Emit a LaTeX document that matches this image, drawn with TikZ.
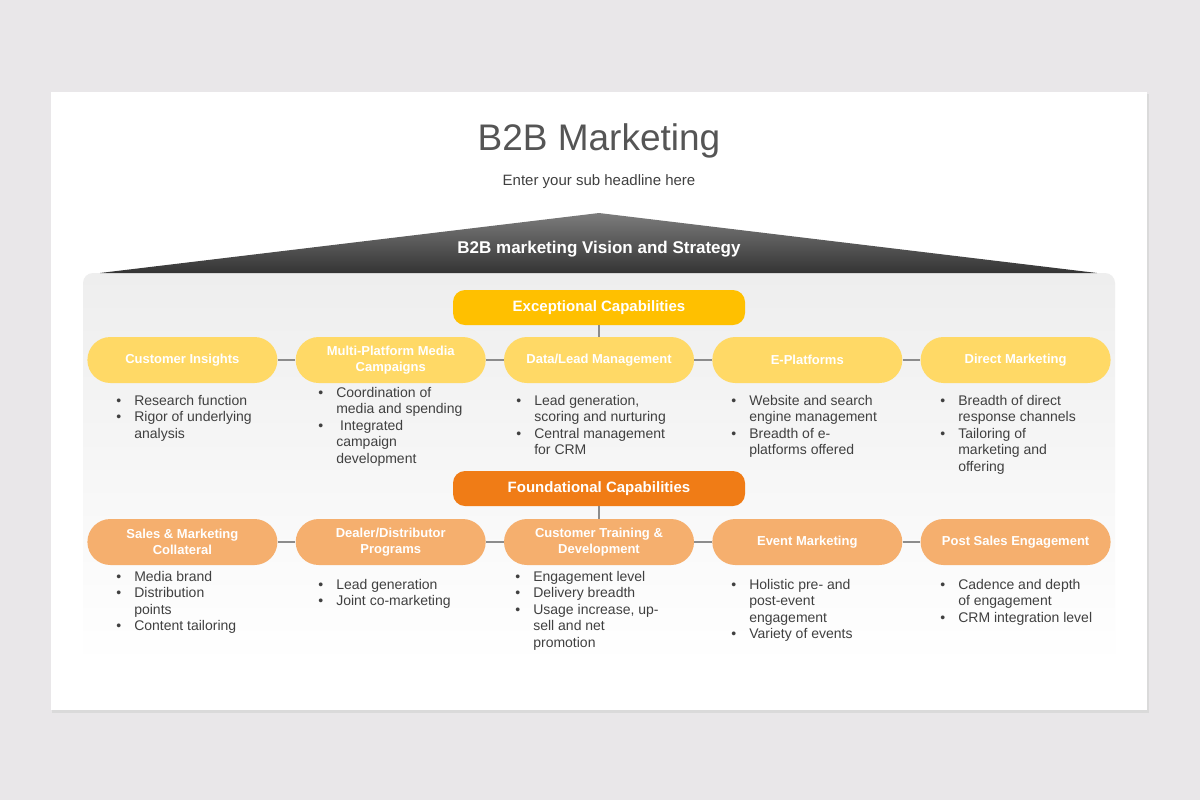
\documentclass[tikz,border=0pt]{standalone}
\usepackage{fontspec}
\setmainfont{Liberation Sans}
\usepackage{xcolor}
\usepackage{tikz}
\usetikzlibrary{positioning}
\definecolor{PageGray}{HTML}{E9E7E9}
\definecolor{CardShade}{HTML}{DADADA}
\definecolor{TitleGray}{HTML}{555555}
\definecolor{TextGray}{HTML}{404040}
\definecolor{LineGray}{HTML}{8C8C8C}
\definecolor{RoofTop}{HTML}{7C7C7C}
\definecolor{RoofBottom}{HTML}{343434}
\definecolor{PanelGray}{HTML}{EEEEEE}
\definecolor{DeepGold}{HTML}{FFC000}
\definecolor{SoftGold}{HTML}{FFD966}
\definecolor{DeepOrange}{HTML}{F07C16}
\definecolor{SoftOrange}{HTML}{F5AF6E}
\newcommand{\bu}{\textbullet}
\newcommand{\blist}[1]{\begin{tabular}[t]{@{}l@{\hspace{6.5pt}}l@{}}#1\end{tabular}}
\tikzset{
  pill/.style={rounded corners=11.5pt,minimum width=95pt,minimum height=23pt,inner sep=1pt,
               align=center,text=white,font=\fontsize{6.5}{8.3}\selectfont\bfseries},
  goldpill/.style={pill,fill=SoftGold},
  orangepill/.style={pill,fill=SoftOrange},
  headbox/.style={rounded corners=6pt,minimum width=146pt,minimum height=17.5pt,inner sep=1pt,
                  text=white,font=\fontsize{7.5}{9}\selectfont\bfseries},
  link/.style={draw=LineGray,line width=0.7pt},
  blistnode/.style={anchor=base west,inner sep=0pt,text=TextGray,font=\fontsize{7}{8.25}\selectfont}
}
\begin{document}
\begin{tikzpicture}[x=0.5pt,y=-0.5pt,node distance=8.75pt]
  % page, card and panel
  \fill[PageGray] (0,0) rectangle (1200,800);
  \fill[CardShade] (52,94) rectangle (1149,713);
  \fill[white] (51,92) rectangle (1147,710);
  \shade[top color=PanelGray,bottom color=white,rounded corners=5pt] (83,273) rectangle (1115,665);
  \shade[top color=RoofTop,bottom color=RoofBottom] (100,273) -- (599,213) -- (1097,273) -- cycle;

  \node[text=TitleGray,font=\fontsize{18.5}{22}\selectfont] (title) at (599,141) {B2B Marketing};
  \node[text=TextGray,font=\fontsize{7.5}{9}\selectfont] (sub) at (599,182) {Enter your sub headline here};
  \node[text=white,font=\fontsize{8.5}{10}\selectfont\bfseries] (roof) at (599,249) {B2B marketing Vision and Strategy};

  % exceptional row
  \node[headbox,fill=DeepGold] (excep) at (599,307.5) {Exceptional Capabilities};
  \node[goldpill] (leads) at (599,360) {Data/Lead Management};
  \node[goldpill,left=of leads] (media) {Multi-Platform Media\\Campaigns};
  \node[goldpill,left=of media] (insights) {Customer Insights};
  \node[goldpill,right=of leads] (eplat) {E-Platforms};
  \node[goldpill,right=of eplat] (direct) {Direct Marketing};

  % foundational row
  \node[headbox,fill=DeepOrange] (found) at (599,488.5) {Foundational Capabilities};
  \node[orangepill] (training) at (599,542) {Customer Training \&\\Development};
  \node[orangepill,left=of training] (dealer) {Dealer/Distributor\\Programs};
  \node[orangepill,left=of dealer] (collat) {Sales \& Marketing\\Collateral};
  \node[orangepill,right=of training] (events) {Event Marketing};
  \node[orangepill,right=of events] (postsales) {Post Sales Engagement};

  \draw[link] (excep) -- (leads);
  \draw[link] (insights) -- (media);
  \draw[link] (media) -- (leads);
  \draw[link] (leads) -- (eplat);
  \draw[link] (eplat) -- (direct);
  \draw[link] (found) -- (training);
  \draw[link] (collat) -- (dealer);
  \draw[link] (dealer) -- (training);
  \draw[link] (training) -- (events);
  \draw[link] (events) -- (postsales);

  % bullet lists
  \node[blistnode] (insightsList) at (116,405) {\blist{\bu & Research function\\ \bu & Rigor of underlying\\ & analysis}};
  \node[blistnode] (mediaList) at (318,397) {\blist{\bu & Coordination of\\ & media and spending\\ \bu & \ Integrated\\ & campaign\\ & development}};
  \node[blistnode] (leadsList) at (516,405) {\blist{\bu & Lead generation,\\ & scoring and nurturing\\ \bu & Central management\\ & for CRM}};
  \node[blistnode] (eplatList) at (731,405) {\blist{\bu & Website and search\\ & engine management\\ \bu & Breadth of e-\\ & platforms offered}};
  \node[blistnode] (directList) at (940,405) {\blist{\bu & Breadth of direct\\ & response channels\\ \bu & Tailoring of\\ & marketing and\\ & offering}};

  \node[blistnode] (collatList) at (116,581) {\blist{\bu & Media brand\\ \bu & Distribution\\ & points\\ \bu & Content tailoring}};
  \node[blistnode] (dealerList) at (318,589) {\blist{\bu & Lead generation\\ \bu & Joint co-marketing}};
  \node[blistnode] (trainingList) at (515,581) {\blist{\bu & Engagement level\\ \bu & Delivery breadth\\ \bu & Usage increase, up-\\ & sell and net\\ & promotion}};
  \node[blistnode] (eventsList) at (731,589) {\blist{\bu & Holistic pre- and\\ & post-event\\ & engagement\\ \bu & Variety of events}};
  \node[blistnode] (postsalesList) at (940,589) {\blist{\bu & Cadence and depth\\ & of engagement\\ \bu & CRM integration level}};
\end{tikzpicture}
\end{document}
